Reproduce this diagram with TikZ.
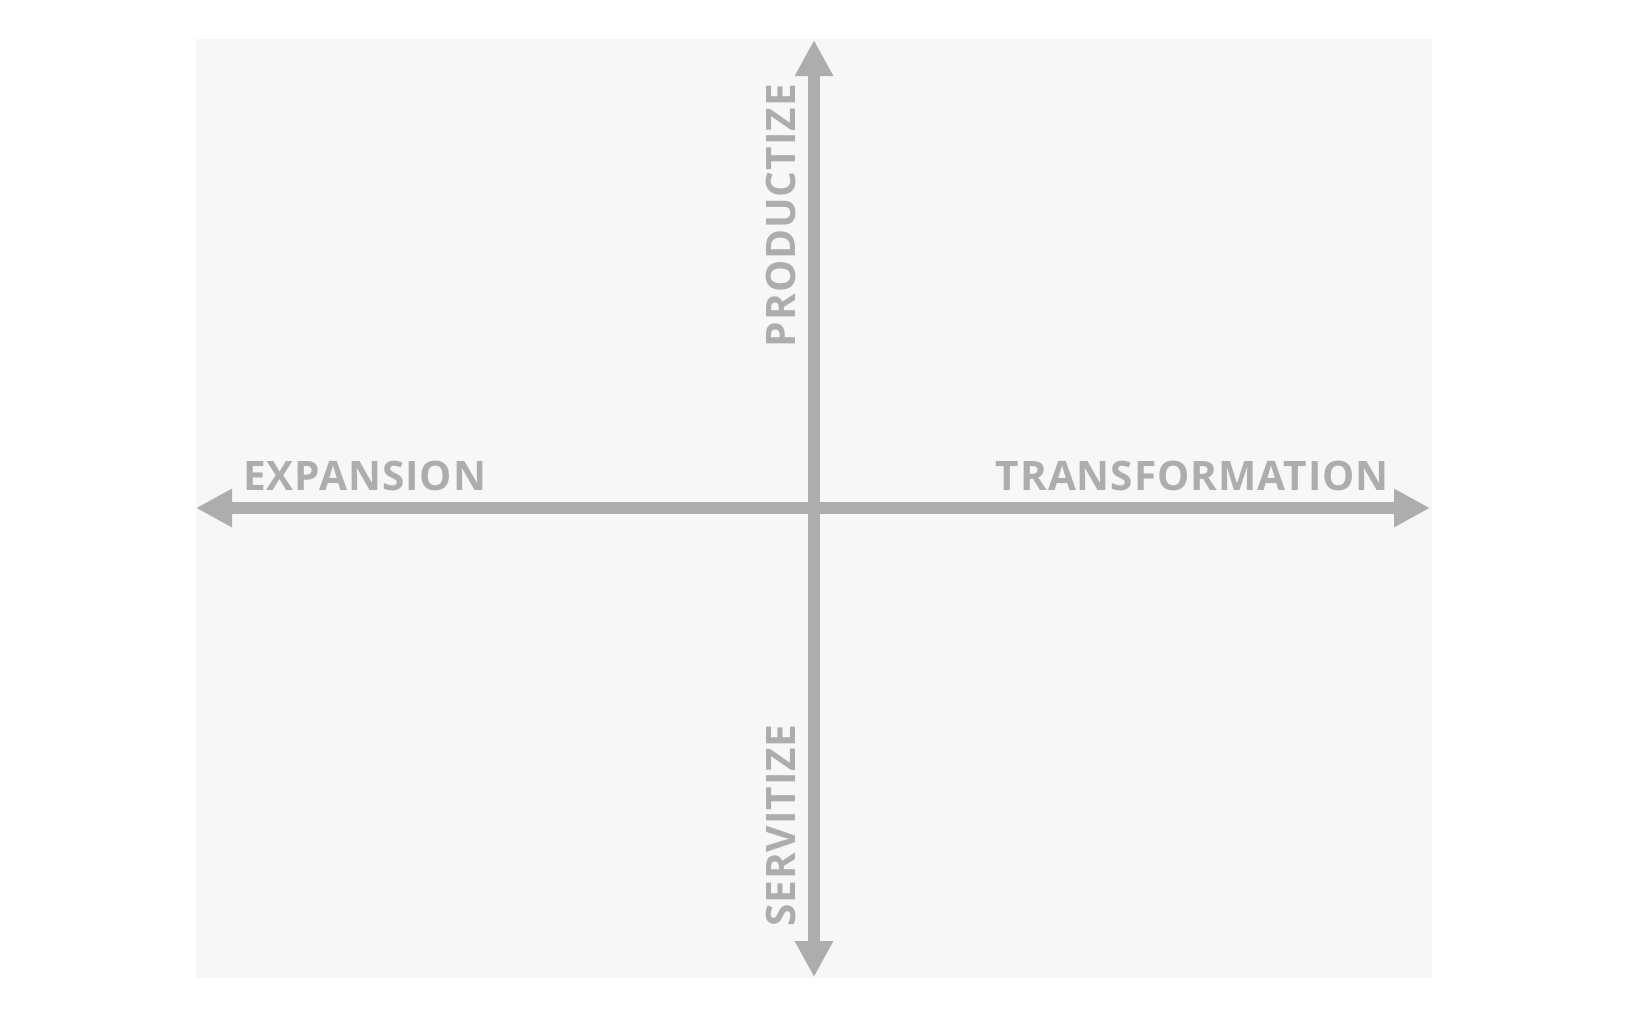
\documentclass[tikz,border=0pt]{standalone}
\usepackage{fontspec}
\setmainfont{Open Sans}[BoldFont={Open Sans Bold}]
\usetikzlibrary{arrows.meta}
\definecolor{bgc}{HTML}{F7F7F7}
\definecolor{axc}{HTML}{ADADAD}
\tikzset{
  axis/.style={draw=axc, line width=12pt, -{Triangle[length=36pt,width=36pt]}},
  lbl/.style={text=axc, inner sep=0pt, font=\fontsize{40.6pt}{44pt}\selectfont\bfseries\addfontfeature{LetterSpace=2.3}}
}
\begin{document}
\begin{tikzpicture}[x=1pt,y=-1pt]
\useasboundingbox (0,0) rectangle (1625,1015);
\fill[bgc] (196,39) rectangle (1432,978);
\coordinate (c) at (814,508);
\coordinate (l) at (196,508);
\coordinate (r) at (1430,508);
\coordinate (t) at (814,40);
\coordinate (b) at (814,977);
\draw[axis] (c) -- (l);
\draw[axis] (c) -- (r);
\draw[axis] (c) -- (t);
\draw[axis] (c) -- (b);
\node[lbl, anchor=base west] (exp) at (243,490) {EXPANSION};
\node[lbl, anchor=base east] (tra) at (1389,490) {TRANSFORMATION};
\node[lbl, anchor=base east, rotate=90] (pro) at (795,84) {PRODUCTIZE};
\node[lbl, anchor=base west, rotate=90] (ser) at (795,927) {SERVITIZE};
\end{tikzpicture}
\end{document}
